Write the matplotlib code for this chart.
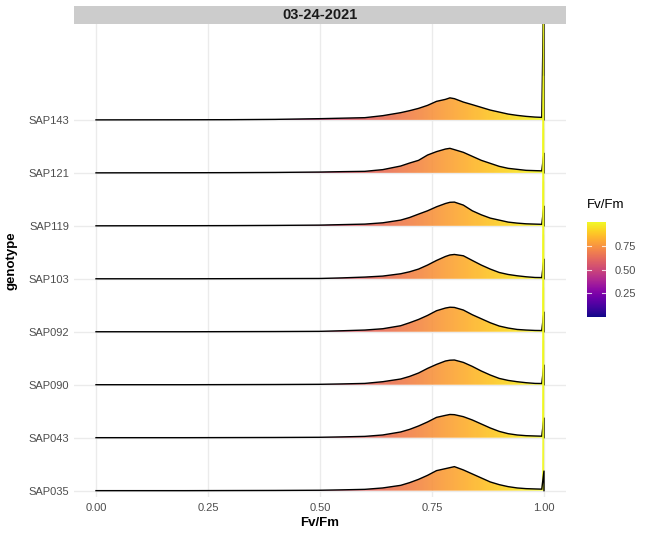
import numpy as np
import matplotlib.pyplot as plt
from matplotlib.patches import Polygon
from matplotlib.colors import Normalize
from matplotlib.cm import ScalarMappable

plt.rcParams['font.family'] = ['Liberation Sans', 'DejaVu Sans']

genotypes = ["SAP035", "SAP043", "SAP090", "SAP092", "SAP103", "SAP119", "SAP121", "SAP143"]

# Fv/Fm positions where the ridge heights were read
fvfm = [0.0, 0.2, 0.3, 0.4, 0.5, 0.55, 0.60, 0.64, 0.68, 0.70, 0.72, 0.74, 0.76,
        0.78, 0.79, 0.80, 0.82, 0.84, 0.86, 0.88, 0.90, 0.92, 0.94, 0.96, 0.98, 0.995]

# ridge heights (density, arbitrary units) for each genotype
dens = {
    "SAP143": [0, 0.1, 0.2, 0.5, 1.2, 1.7, 2.2, 4.2, 7.2, 9.2, 11.5, 14.5, 18.5,
               20.5, 22.0, 21.2, 17.8, 15.2, 12.5, 9.8, 7.8, 5.8, 4.5, 3.5, 2.8, 2.5],
    "SAP121": [0, 0.1, 0.2, 0.4, 0.8, 1.2, 1.5, 3.2, 6.8, 9.8, 12.5, 17.8, 21.2,
               23.8, 24.5, 23.2, 20.5, 16.5, 12.5, 9.5, 6.5, 4.5, 3.5, 2.5, 2.2, 2.0],
    "SAP119": [0, 0.1, 0.2, 0.4, 0.7, 1.2, 1.7, 3.0, 5.7, 8.3, 11.7, 15.0, 19.0,
               22.3, 23.5, 23.7, 20.7, 15.0, 11.0, 7.7, 5.7, 3.7, 2.7, 2.0, 1.7, 1.5],
    "SAP103": [0, 0, 0.1, 0.2, 0.3, 0.9, 1.7, 2.7, 5.0, 7.0, 9.7, 13.7, 18.3,
               22.3, 23.8, 24.3, 23.0, 18.3, 13.7, 9.7, 6.3, 4.3, 3.0, 2.0, 1.3, 1.2],
    "SAP092": [0, 0, 0.1, 0.2, 0.4, 1.0, 1.7, 3.0, 6.0, 9.0, 12.3, 16.3, 21.0,
               23.7, 24.5, 24.3, 21.7, 17.0, 13.0, 9.0, 5.7, 3.7, 2.3, 1.7, 1.3, 1.2],
    "SAP090": [0, 0, 0.1, 0.2, 0.4, 0.8, 1.3, 3.0, 5.7, 8.3, 11.7, 16.3, 20.3,
               23.7, 24.5, 24.7, 22.3, 18.3, 13.7, 9.7, 6.3, 4.3, 3.0, 2.0, 1.3, 1.2],
    "SAP043": [0, 0, 0.1, 0.2, 0.4, 0.8, 1.3, 2.7, 5.7, 8.3, 11.7, 15.7, 20.3,
               22.3, 23.2, 23.0, 21.0, 17.7, 13.7, 9.7, 6.3, 4.0, 2.7, 2.0, 1.7, 1.5],
    "SAP035": [0, 0, 0.1, 0.2, 0.4, 0.8, 1.3, 2.7, 5.3, 8.0, 11.3, 15.3, 20.0,
               22.0, 23.0, 24.0, 20.7, 16.7, 12.7, 8.7, 6.0, 4.0, 2.7, 2.0, 1.7, 1.5],
}
# spike of pixels at Fv/Fm = 1 (foot height, full height)
spike_foot = 20
spike_top = 150

xticks = [0.0, 0.25, 0.5, 0.75, 1.0]
xtick_labels = ["0.00", "0.25", "0.50", "0.75", "1.00"]
cbar_ticks = [0.25, 0.5, 0.75]

scale = 1 / 52.95  # density units -> row spacing
norm = Normalize(0, 1)
cmap = plt.get_cmap("plasma")

fig = plt.figure(figsize=(6.55, 5.39), dpi=100)
ax = fig.add_axes([73.6 / 655, 42 / 539, 492.8 / 655, 473 / 539])

grad = np.linspace(0, 1, 600).reshape(1, -1)
n = len(genotypes)
for k in range(n - 1, -1, -1):
    g = genotypes[k]
    base = k + 1
    h = np.array(dens[g]) * scale
    # fill outline: ridge, then a narrow spike at 1.0
    fx = np.r_[fvfm, 0.9958, 0.9975, 1.0003, 1.0003, 0.0]
    fy = base + np.r_[h, spike_foot * scale, spike_top * scale, spike_top * scale, 0, 0]
    poly = Polygon(np.column_stack([fx, fy]), closed=True, facecolor="none", edgecolor="none")
    ax.add_patch(poly)
    im = ax.imshow(grad, extent=(0, 1.001, base, base + spike_top * scale), origin="lower",
                   aspect="auto", cmap=cmap, norm=norm, zorder=2 + (n - k) * 2,
                   interpolation="bilinear", alpha=0.92)
    im.set_clip_path(poly)
    # black outline: the top ridge keeps its full spike, lower ones only the foot of it
    top = spike_top if k == n - 1 else spike_foot
    lx = np.r_[fvfm, 1.0, 1.0]
    ly = base + np.r_[h, top * scale, 0]
    ax.plot(lx, ly, color="black", lw=1.0, zorder=3 + (n - k) * 2, solid_joinstyle="miter")

ax.set_xlim(-0.05, 1.05)
ax.set_ylim(0.88, 9.81)
ax.set_xticks(xticks)
ax.set_xticklabels(xtick_labels)
ax.set_yticks(range(1, n + 1))
ax.set_yticklabels(genotypes)
ax.grid(True, color="#ebebeb", lw=1.0, zorder=0)
ax.set_axisbelow(True)
ax.tick_params(length=0, labelsize=8, labelcolor="#4d4d4d")
ax.tick_params(axis="y", pad=3.3)
ax.tick_params(axis="x", pad=4.5)
for s in ax.spines.values():
    s.set_visible(False)

# facet strip
strip = fig.add_axes([73.6 / 655, 1 - 24 / 539, 492.8 / 655, 18 / 539])
strip.set_facecolor("#cccccc")
strip.set_xticks([])
strip.set_yticks([])
for s in strip.spines.values():
    s.set_visible(False)
strip.text(0.5, 0.5, "03-24-2021", ha="center", va="center", fontsize=10.5,
           fontweight="bold", color="#1a1a1a", transform=strip.transAxes)

fig.text(320 / 655, 1 - 523 / 539, "Fv/Fm", ha="center", va="center",
         fontsize=9.5, fontweight="bold")
fig.text(11 / 655, 1 - 260.5 / 539, "genotype", ha="center", va="center",
         rotation=90, fontsize=9.5, fontweight="bold")

# colour legend
cax = fig.add_axes([587 / 655, 1 - 317 / 539, 19 / 655, 95 / 539])
cb = fig.colorbar(ScalarMappable(norm=norm, cmap=cmap), cax=cax, ticks=cbar_ticks)
cb.outline.set_visible(False)
cb.ax.tick_params(length=0, labelsize=8, labelcolor="#4d4d4d", pad=6)
for t in cbar_ticks:
    cax.plot([0, 0.2], [t, t], color="white", lw=0.8, alpha=0.8)
    cax.plot([0.8, 1], [t, t], color="white", lw=0.8, alpha=0.8)
fig.text(587 / 655, 1 - 205 / 539, "Fv/Fm", ha="left", va="center", fontsize=9.5)

fig.savefig("out.png", dpi=100)
